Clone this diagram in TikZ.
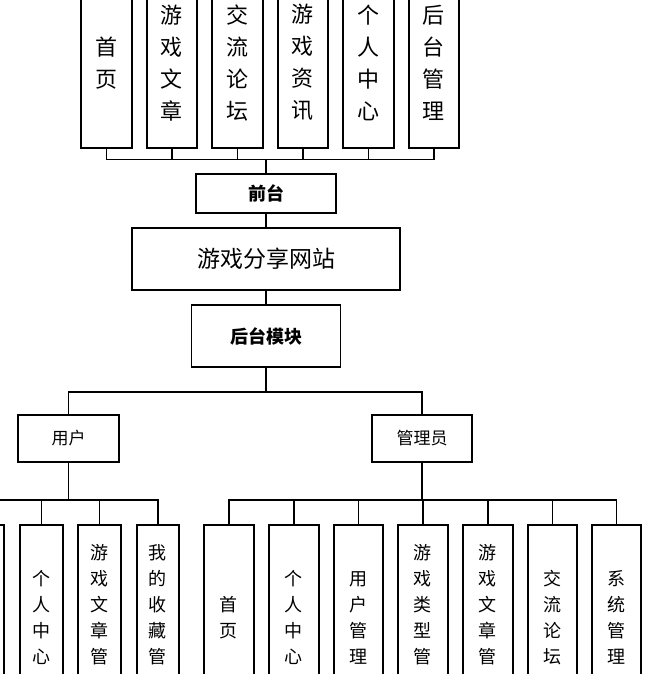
\documentclass[tikz,border=0pt]{standalone}
\usepackage{fontspec}
\setmainfont{Noto Sans CJK SC}
\tikzset{
  box/.style={draw,line width=1.5pt,inner sep=0pt,anchor=north west},
  vt/.style={align=center,font=\fontsize{22}{32}\selectfont},
  vb/.style={align=center,font=\fontsize{18}{26}\selectfont},
  ln/.style={line width=1.5pt}
}
\newcommand{\bx}[5]{\node[box,minimum width=#3pt-#1pt,minimum height=#4pt-#2pt] (#5) at (#1,#2) {};}
\begin{document}
\begin{tikzpicture}[x=1pt,y=-1pt]
\useasboundingbox (0,0) rectangle (649,674);
\clip (0,0) rectangle (649,674);
% top row
\bx{80}{-23}{131}{147}{t1}\node[vt] (tt1) at (t1) {首\\页};
\bx{146}{-23}{196}{147}{t2}\node[vt] (tt2) at (t2) {游\\戏\\文\\章};
\bx{211}{-23}{262}{147}{t3}\node[vt] (tt3) at (t3) {交\\流\\论\\坛};
\bx{277}{-23}{327}{147}{t4}\node[vt] (tt4) at (t4) {游\\戏\\资\\讯};
\bx{342}{-23}{393}{147}{t5}\node[vt] (tt5) at (t5) {个\\人\\中\\心};
\bx{408}{-23}{458}{147}{t6}\node[vt] (tt6) at (t6) {后\\台\\管\\理};
% middle
\node[draw,line width=1.5pt,minimum width=140pt,minimum height=39pt,font=\bfseries\fontsize{18}{20}\selectfont] (qt) at (266,193.5) {前台};
\node[draw,line width=1.5pt,minimum width=268pt,minimum height=62pt,font=\fontsize{23}{25}\selectfont] (site) at (266,259) {游戏分享网站};
\node[draw,line width=1.5pt,minimum width=149pt,minimum height=62pt,font=\bfseries\fontsize{18}{20}\selectfont] (ht) at (266,336) {后台模块};
\node[draw,line width=1.5pt,minimum width=101pt,minimum height=47pt,font=\fontsize{17}{19}\selectfont] (user) at (68.5,438.5) {用户};
\node[draw,line width=1.5pt,minimum width=100pt,minimum height=47pt,font=\fontsize{17}{19}\selectfont] (admin) at (422,438.5) {管理员};
% bottom left
\bx{-40}{524}{3}{710}{l0}
\bx{19}{524}{62}{710}{l1}\node[vb] (tl1) at (l1) {个\\人\\中\\心};
\bx{77}{524}{120}{710}{l2}\node[vb] (tl2) at (l2) {游\\戏\\文\\章\\管\\理};
\bx{136}{524}{178}{710}{l3}\node[vb] (tl3) at (l3) {我\\的\\收\\藏\\管\\理};
% bottom right
\bx{203}{524}{253}{710}{r1}\node[vb] (tr1) at (r1) {首\\页};
\bx{268}{524}{318}{710}{r2}\node[vb] (tr2) at (r2) {个\\人\\中\\心};
\bx{333}{524}{382}{710}{r3}\node[vb] (tr3) at (r3) {用\\户\\管\\理};
\bx{397}{524}{447}{710}{r4}\node[vb] (tr4) at (r4) {游\\戏\\类\\型\\管\\理};
\bx{462}{524}{512}{710}{r5}\node[vb] (tr5) at (r5) {游\\戏\\文\\章\\管\\理};
\bx{527}{524}{576}{710}{r6}\node[vb] (tr6) at (r6) {交\\流\\论\\坛};
\bx{591}{524}{640}{710}{r7}\node[vb] (tr7) at (r7) {系\\统\\管\\理};
% connectors
\foreach \n in {t1,t2,t3,t4,t5,t6} \draw[ln] (\n.south) -- ++(0,11) -| (qt.north);
\draw[ln] (qt) -- (site);
\draw[ln] (site) -- (ht);
\draw[ln] (ht.south) |- ++(0,24) -| (user.north);
\draw[ln] (ht.south) |- ++(0,24) -| (admin.north);
\foreach \n in {l0,l1,l2,l3} \draw[ln] (\n.north) |- (user.south |- 0,500) -- (user.south);
\foreach \n in {r1,r2,r3,r4,r5,r6,r7} \draw[ln] (\n.north) |- (admin.south |- 0,500) -- (admin.south);
\end{tikzpicture}
\end{document}
